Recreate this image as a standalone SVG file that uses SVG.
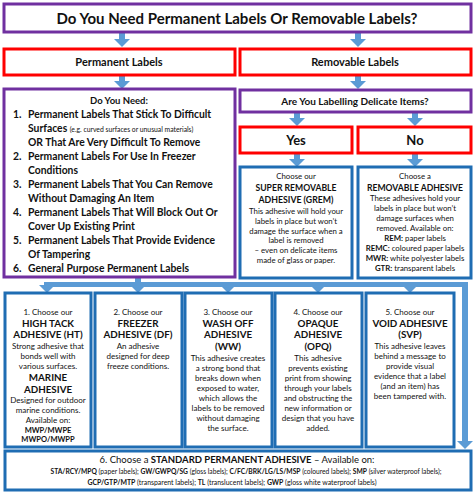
<svg xmlns="http://www.w3.org/2000/svg" xmlns:xlink="http://www.w3.org/1999/xlink" width="474" height="494" viewBox="0 0 474 494">
<style>
.pu{fill:#fff;stroke:#7030A0;stroke-width:3}
.rd{fill:#fff;stroke:#FF0000;stroke-width:3}
.bl{fill:#fff;stroke:#1F6DB3;stroke-width:3}
.arr{fill:#5B9BD5}
text{font-family:Lato,"Liberation Sans",sans-serif;fill:#111}
.c{text-anchor:middle}
.b{font-weight:bold}
.h1{font-size:15px;font-weight:bold}
.h2{font-size:11px;font-weight:bold}
.li{font-size:10.35px;font-weight:bold}
.sm{font-size:6.8px;font-weight:normal}
.t{font-size:7.8px}
.tb{font-size:9.4px;font-weight:bold}
.bt{font-size:8px}
.bb{font-size:9.8px;font-weight:bold}
</style>
<defs>
<path id="a" d="M-3,0 H3 V6 H8 L0,14 L-8,6 H-3 Z"/>
<path id="h" d="M-8,0 H8 L0,8 Z"/>
</defs>
<g id="connectors" class="arr">
<use href="#a" x="122" y="33"/>
<use href="#a" x="358" y="33"/>
<use href="#a" x="122" y="75"/>
<use href="#a" x="358" y="75"/>
<use href="#a" x="297" y="112"/>
<use href="#a" x="415" y="112"/>
<use href="#a" x="297" y="153"/>
<use href="#a" x="415" y="153"/>
<rect x="135" y="277" width="6" height="8"/>
<rect x="44" y="282" width="424" height="5"/>
<rect x="462" y="282" width="6" height="160"/>
<use href="#h" x="465" y="441"/>
<use href="#h" x="47" y="285"/>
<use href="#h" x="138" y="285"/>
<use href="#h" x="228" y="285"/>
<use href="#h" x="318" y="285"/>
<use href="#h" x="410" y="285"/>
</g>
<g id="n-title">
<rect class="pu" x="4" y="4" width="467" height="28"/>
<text class="c h1" x="237" y="24">Do You Need Permanent Labels Or Removable Labels?</text>
</g>
<g id="n-permanent">
<rect class="rd" x="4" y="49" width="231" height="26"/>
<text class="c h2" x="119" y="66">Permanent Labels</text>
</g>
<g id="n-removable">
<rect class="rd" x="240" y="49" width="231" height="26"/>
<text class="c h2" x="355" y="66">Removable Labels</text>
</g>
<g id="n-needs">
<rect class="pu" x="4" y="89" width="231" height="188"/>
<text class="c b" x="119" y="104" font-size="9.5">Do You Need:</text>
<g class="li">
<text x="13" y="118">1.</text>
<text x="28" y="118">Permanent Labels That Stick To Difficult</text>
<text x="28" y="132">Surfaces <tspan class="sm">(e.g. curved surfaces or unusual materials)</tspan></text>
<text x="28" y="146">OR That Are Very Difficult To Remove</text>
<text x="13" y="160">2.</text>
<text x="28" y="160">Permanent Labels For Use In Freezer</text>
<text x="28" y="174">Conditions</text>
<text x="13" y="188">3.</text>
<text x="28" y="188">Permanent Labels That You Can Remove</text>
<text x="28" y="202">Without Damaging An Item</text>
<text x="13" y="216">4.</text>
<text x="28" y="216">Permanent Labels That Will Block Out Or</text>
<text x="28" y="230">Cover Up Existing Print</text>
<text x="13" y="244">5.</text>
<text x="28" y="244">Permanent Labels That Provide Evidence</text>
<text x="28" y="258">Of Tampering</text>
<text x="13" y="272">6.</text>
<text x="28" y="272">General Purpose Permanent Labels</text>
</g>
</g>
<g id="n-delicate">
<rect class="pu" x="240" y="90" width="231" height="22"/>
<text class="c b" x="355" y="105" font-size="10">Are You Labelling Delicate Items?</text>
</g>
<g id="n-yes">
<rect class="rd" x="240" y="127" width="112" height="26"/>
<text class="c b" x="296" y="145" font-size="13">Yes</text>
</g>
<g id="n-no">
<rect class="rd" x="358" y="127" width="113" height="26"/>
<text class="c b" x="415" y="145" font-size="13">No</text>
</g>
<g id="n-grem">
<rect class="bl" x="240" y="167" width="112" height="111"/>
<text class="c t" x="296" y="179">Choose our</text>
<text class="c tb" x="296" y="191" textLength="81" lengthAdjust="spacingAndGlyphs">SUPER REMOVABLE</text>
<text class="c tb" x="296" y="203" textLength="75" lengthAdjust="spacingAndGlyphs">ADHESIVE (GREM)</text>
<text class="c t" x="296" y="214" textLength="94" lengthAdjust="spacingAndGlyphs">This adhesive will hold your</text>
<text class="c t" x="296" y="224">labels in place but won’t</text>
<text class="c t" x="296" y="234">damage the surface when a</text>
<text class="c t" x="296" y="243">label is removed</text>
<text class="c t" x="296" y="253">– even on delicate items</text>
<text class="c t" x="296" y="263">made of glass or paper.</text>
</g>
<g id="n-rem">
<rect class="bl" x="358" y="167" width="113" height="111"/>
<text class="c t" x="415" y="179">Choose a</text>
<text class="c tb" x="415" y="191" textLength="96" lengthAdjust="spacingAndGlyphs">REMOVABLE ADHESIVE</text>
<text class="c t" x="415" y="201">These adhesives hold your</text>
<text class="c t" x="415" y="211">labels in place but won’t</text>
<text class="c t" x="415" y="221">damage surfaces when</text>
<text class="c t" x="415" y="231">removed. Available on:</text>
<text class="c t" x="415" y="241"><tspan class="b">REM:</tspan> paper labels</text>
<text class="c t" x="415" y="251"><tspan class="b">REMC:</tspan> coloured paper labels</text>
<text class="c t" x="415" y="261"><tspan class="b">MWR:</tspan> white polyester labels</text>
<text class="c t" x="415" y="271"><tspan class="b">GTR:</tspan> transparent labels</text>
</g>
<g id="n-ht">
<rect class="bl" x="5" y="293" width="86" height="154"/>
<text class="c bt" x="48" y="315">1. Choose our</text>
<text class="c bb" x="48" y="327">HIGH TACK</text>
<text class="c bb" x="48" y="338">ADHESIVE (HT)</text>
<text class="c bt" x="48" y="349">Strong adhesive that</text>
<text class="c bt" x="48" y="359">bonds well with</text>
<text class="c bt" x="48" y="369">various surfaces.</text>
<text class="c bb" x="48" y="381">MARINE</text>
<text class="c bb" x="48" y="393">ADHESIVE</text>
<text class="c bt" x="48" y="403">Designed for outdoor</text>
<text class="c bt" x="48" y="413">marine conditions.</text>
<text class="c bt" x="48" y="423">Available on:</text>
<text class="c b" x="48" y="433" font-size="7.5">MWP/MWPE</text>
<text class="c b" x="48" y="442" font-size="7.5">MWPO/MWPP</text>
</g>
<g id="n-df">
<rect class="bl" x="95" y="293" width="87" height="154"/>
<text class="c bt" x="138" y="315">2. Choose our</text>
<text class="c bb" x="138" y="327">FREEZER</text>
<text class="c bb" x="138" y="338">ADHESIVE (DF)</text>
<text class="c bt" x="138" y="349">An adhesive</text>
<text class="c bt" x="138" y="359">designed for deep</text>
<text class="c bt" x="138" y="369">freeze conditions.</text>
</g>
<g id="n-ww">
<rect class="bl" x="185" y="293" width="87" height="154"/>
<text class="c bt" x="228" y="315">3. Choose our</text>
<text class="c bb" x="228" y="327">WASH OFF</text>
<text class="c bb" x="228" y="338">ADHESIVE</text>
<text class="c bb" x="228" y="350">(WW)</text>
<text class="c bt" x="228" y="361">This adhesive creates</text>
<text class="c bt" x="228" y="371">a strong bond that</text>
<text class="c bt" x="228" y="381">breaks down when</text>
<text class="c bt" x="228" y="391">exposed to water,</text>
<text class="c bt" x="228" y="401">which allows the</text>
<text class="c bt" x="228" y="411">labels to be removed</text>
<text class="c bt" x="228" y="421">without damaging</text>
<text class="c bt" x="228" y="431">the surface.</text>
</g>
<g id="n-opq">
<rect class="bl" x="275" y="293" width="87" height="154"/>
<text class="c bt" x="318" y="315">4. Choose our</text>
<text class="c bb" x="318" y="327">OPAQUE</text>
<text class="c bb" x="318" y="338">ADHESIVE</text>
<text class="c bb" x="318" y="350">(OPQ)</text>
<text class="c bt" x="318" y="361">This adhesive</text>
<text class="c bt" x="318" y="371">prevents existing</text>
<text class="c bt" x="318" y="381">print from showing</text>
<text class="c bt" x="318" y="391">through your labels</text>
<text class="c bt" x="318" y="401">and obstructing the</text>
<text class="c bt" x="318" y="411">new information or</text>
<text class="c bt" x="318" y="421">design that you have</text>
<text class="c bt" x="318" y="431">added.</text>
</g>
<g id="n-svp">
<rect class="bl" x="366" y="293" width="88" height="154"/>
<text class="c bt" x="410" y="315">5. Choose our</text>
<text class="c bb" x="410" y="327">VOID ADHESIVE</text>
<text class="c bb" x="410" y="338">(SVP)</text>
<text class="c bt" x="410" y="349">This adhesive leaves</text>
<text class="c bt" x="410" y="359">behind a message to</text>
<text class="c bt" x="410" y="369">provide visual</text>
<text class="c bt" x="410" y="379">evidence that a label</text>
<text class="c bt" x="410" y="389">(and an item) has</text>
<text class="c bt" x="410" y="399">been tampered with.</text>
</g>
<g id="n-std">
<rect class="bl" x="5" y="451" width="466" height="39"/>
<text class="c" x="237" y="463" font-size="9.5">6. Choose a <tspan class="b">STANDARD PERMANENT ADHESIVE</tspan> – Available on:</text>
<text class="c" x="246" y="474" font-size="6.7"><tspan class="b">STA/RCY/MPQ</tspan> (paper labels); <tspan class="b">GW/GWPQ/SG</tspan> (gloss labels); <tspan class="b">C/FC/BRK/LG/LS/MSP</tspan> (coloured labels); <tspan class="b">SMP</tspan> (silver waterproof labels);</text>
<text class="c" x="232" y="485" font-size="6.9"><tspan class="b">GCP/GTP/MTP</tspan> (transparent labels); <tspan class="b">TL</tspan> (translucent labels); <tspan class="b">GWP</tspan> (gloss white waterproof labels)</text>
</g>
</svg>
